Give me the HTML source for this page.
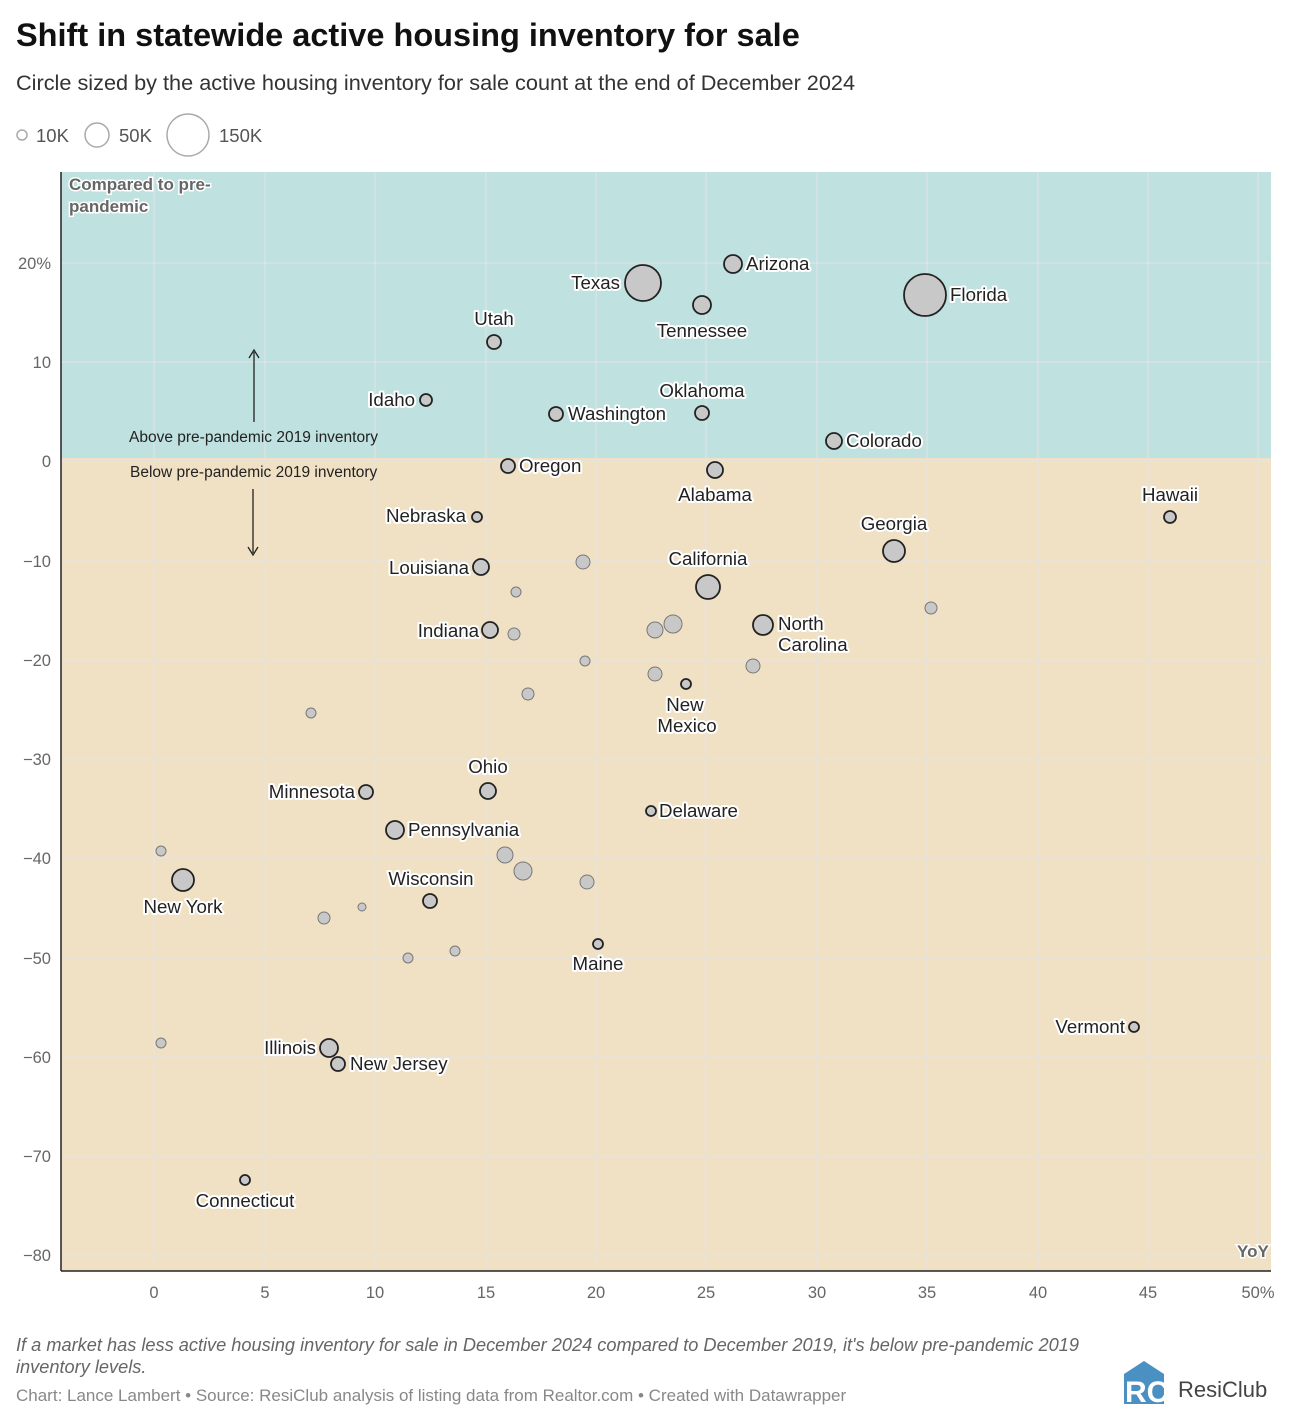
<!DOCTYPE html>
<html><head><meta charset="utf-8"><style>
body{margin:0;background:#fff;font-family:"Liberation Sans",sans-serif;}
svg text{font-family:"Liberation Sans",sans-serif;}
.l{font-size:18.7px;fill:#222;stroke:#fff;stroke-width:4px;paint-order:stroke;stroke-linejoin:round;}
.t{font-size:16.5px;fill:#666;}
.c{fill:#c8c8c8;stroke:#222;stroke-width:1.8;}
.u{fill:#c8c8c8;stroke:#777;stroke-width:1;}
.g{stroke:#e4e4e4;stroke-width:1;}
</style></head><body>
<svg width="1292" height="1422" xmlns="http://www.w3.org/2000/svg">
<text x="16" y="46" font-size="32.5" font-weight="bold" fill="#111">Shift in statewide active housing inventory for sale</text>
<text x="16" y="90" font-size="21.7" fill="#333">Circle sized by the active housing inventory for sale count at the end of December 2024</text>
<circle cx="22" cy="135" r="5" fill="none" stroke="#aaa" stroke-width="1.5"/>
<text x="36" y="142" font-size="18.5" fill="#555">10K</text>
<circle cx="97" cy="135" r="12" fill="none" stroke="#aaa" stroke-width="1.5"/>
<text x="119" y="142" font-size="18.5" fill="#555">50K</text>
<circle cx="188" cy="135" r="21" fill="none" stroke="#aaa" stroke-width="1.5"/>
<text x="219" y="142" font-size="18.5" fill="#555">150K</text>
<rect x="61" y="172" width="1210" height="286" fill="#bfe1df"/>
<rect x="61" y="458" width="1210" height="813" fill="#f0e1c4"/>
<g class="g">
<line x1="154" y1="172" x2="154" y2="1271"/><line x1="265" y1="172" x2="265" y2="1271"/>
<line x1="375" y1="172" x2="375" y2="1271"/><line x1="486" y1="172" x2="486" y2="1271"/>
<line x1="596" y1="172" x2="596" y2="1271"/><line x1="706" y1="172" x2="706" y2="1271"/>
<line x1="817" y1="172" x2="817" y2="1271"/><line x1="927" y1="172" x2="927" y2="1271"/>
<line x1="1038" y1="172" x2="1038" y2="1271"/><line x1="1148" y1="172" x2="1148" y2="1271"/>
<line x1="1258" y1="172" x2="1258" y2="1271"/>
<line x1="61" y1="263" x2="1271" y2="263"/><line x1="61" y1="362" x2="1271" y2="362"/>
<line x1="61" y1="461" x2="1271" y2="461"/><line x1="61" y1="561" x2="1271" y2="561"/>
<line x1="61" y1="660" x2="1271" y2="660"/><line x1="61" y1="759" x2="1271" y2="759"/>
<line x1="61" y1="858" x2="1271" y2="858"/><line x1="61" y1="958" x2="1271" y2="958"/>
<line x1="61" y1="1057" x2="1271" y2="1057"/><line x1="61" y1="1156" x2="1271" y2="1156"/>
<line x1="61" y1="1255" x2="1271" y2="1255"/>
</g>
<line x1="61" y1="172" x2="61" y2="1271" stroke="#222" stroke-width="1.5"/>
<line x1="61" y1="1271" x2="1271" y2="1271" stroke="#222" stroke-width="1.5"/>
<g class="t" text-anchor="end">
<text x="51" y="269">20%</text><text x="51" y="368">10</text><text x="51" y="467">0</text>
<text x="51" y="567">−10</text><text x="51" y="666">−20</text><text x="51" y="765">−30</text>
<text x="51" y="864">−40</text><text x="51" y="964">−50</text><text x="51" y="1063">−60</text>
<text x="51" y="1162">−70</text><text x="51" y="1261">−80</text>
</g>
<g class="t" text-anchor="middle">
<text x="154" y="1298">0</text><text x="265" y="1298">5</text><text x="375" y="1298">10</text>
<text x="486" y="1298">15</text><text x="596" y="1298">20</text><text x="706" y="1298">25</text>
<text x="817" y="1298">30</text><text x="927" y="1298">35</text><text x="1038" y="1298">40</text>
<text x="1148" y="1298">45</text><text x="1258" y="1298">50%</text>
</g>
<g font-size="17" font-weight="bold" fill="#666" stroke="#fff" stroke-width="3" paint-order="stroke">
<text x="69" y="190">Compared to pre-</text><text x="69" y="212">pandemic</text>
<text x="1237" y="1257">YoY</text>
</g>
<g font-size="15.5" fill="#222">
<text x="129" y="442">Above pre-pandemic 2019 inventory</text>
<text x="130" y="477">Below pre-pandemic 2019 inventory</text>
</g>
<line x1="254" y1="422" x2="254" y2="352" stroke="#222" stroke-width="1.3"/>
<path d="M249 358 L254 350 L259 358" fill="none" stroke="#222" stroke-width="1.3"/>
<line x1="253" y1="489" x2="253" y2="553" stroke="#222" stroke-width="1.3"/>
<path d="M248 547 L253 555 L258 547" fill="none" stroke="#222" stroke-width="1.3"/>
<g class="u">
<circle cx="583" cy="562" r="7"/><circle cx="516" cy="592" r="5"/><circle cx="931" cy="608" r="6"/>
<circle cx="514" cy="634" r="6"/><circle cx="655" cy="630" r="8"/><circle cx="673" cy="624" r="9"/>
<circle cx="585" cy="661" r="5"/><circle cx="753" cy="666" r="7"/><circle cx="655" cy="674" r="7"/>
<circle cx="528" cy="694" r="6"/><circle cx="311" cy="713" r="5"/>
<circle cx="505" cy="855" r="8"/><circle cx="523" cy="871" r="9"/><circle cx="161" cy="851" r="5"/>
<circle cx="587" cy="882" r="7"/><circle cx="362" cy="907" r="4"/><circle cx="324" cy="918" r="6"/>
<circle cx="455" cy="951" r="5"/><circle cx="408" cy="958" r="5"/><circle cx="161" cy="1043" r="5"/>
</g>
<g class="c">
<circle cx="643" cy="283" r="18"/><circle cx="733" cy="264" r="9"/><circle cx="702" cy="305" r="9"/>
<circle cx="925" cy="295" r="21"/><circle cx="494" cy="342" r="7"/><circle cx="426" cy="400" r="6"/>
<circle cx="556" cy="414" r="7"/><circle cx="702" cy="413" r="7"/><circle cx="834" cy="441" r="8"/>
<circle cx="508" cy="466" r="7"/><circle cx="715" cy="470" r="8"/><circle cx="1170" cy="517" r="6"/>
<circle cx="477" cy="517" r="5"/><circle cx="894" cy="551" r="11"/><circle cx="481" cy="567" r="8"/>
<circle cx="708" cy="587" r="12"/><circle cx="763" cy="625" r="10"/><circle cx="490" cy="630" r="8"/>
<circle cx="686" cy="684" r="5"/><circle cx="488" cy="791" r="8"/><circle cx="366" cy="792" r="7"/>
<circle cx="651" cy="811" r="5"/><circle cx="395" cy="830" r="9"/><circle cx="183" cy="880" r="11"/>
<circle cx="430" cy="901" r="7"/><circle cx="598" cy="944" r="5"/><circle cx="1134" cy="1027" r="5"/>
<circle cx="329" cy="1048" r="9"/><circle cx="338" cy="1064" r="7"/><circle cx="245" cy="1180" r="5"/>
</g>
<g class="l">
<text x="620" y="289" text-anchor="end">Texas</text><text x="746" y="270">Arizona</text>
<text x="702" y="337" text-anchor="middle">Tennessee</text><text x="950" y="301">Florida</text>
<text x="494" y="325" text-anchor="middle">Utah</text><text x="415" y="406" text-anchor="end">Idaho</text>
<text x="568" y="420">Washington</text><text x="702" y="397" text-anchor="middle">Oklahoma</text>
<text x="846" y="447">Colorado</text><text x="519" y="472">Oregon</text>
<text x="715" y="501" text-anchor="middle">Alabama</text><text x="1170" y="501" text-anchor="middle">Hawaii</text>
<text x="466" y="522" text-anchor="end">Nebraska</text><text x="894" y="530" text-anchor="middle">Georgia</text>
<text x="469" y="574" text-anchor="end">Louisiana</text><text x="708" y="565" text-anchor="middle">California</text>
<text x="778" y="630">North</text><text x="778" y="651">Carolina</text>
<text x="479" y="637" text-anchor="end">Indiana</text>
<text x="685" y="711" text-anchor="middle">New</text><text x="687" y="732" text-anchor="middle">Mexico</text>
<text x="488" y="773" text-anchor="middle">Ohio</text><text x="355" y="798" text-anchor="end">Minnesota</text>
<text x="659" y="817">Delaware</text><text x="408" y="836">Pennsylvania</text>
<text x="183" y="913" text-anchor="middle">New York</text><text x="431" y="885" text-anchor="middle">Wisconsin</text>
<text x="598" y="970" text-anchor="middle">Maine</text><text x="1125" y="1033" text-anchor="end">Vermont</text>
<text x="316" y="1054" text-anchor="end">Illinois</text><text x="350" y="1070">New Jersey</text>
<text x="245" y="1207" text-anchor="middle">Connecticut</text>
</g>
<g font-size="18.2" font-style="italic" fill="#666">
<text x="16" y="1351">If a market has less active housing inventory for sale in December 2024 compared to December 2019, it's below pre-pandemic 2019</text>
<text x="16" y="1373">inventory levels.</text>
</g>
<text x="16" y="1401" font-size="17" fill="#888">Chart: Lance Lambert • Source: ResiClub analysis of listing data from Realtor.com • Created with Datawrapper</text>
<path d="M1124 1374 L1144 1361 L1164 1374 L1164 1404 L1124 1404 Z" fill="#4a90c2"/>
<text x="1125" y="1402" font-size="30" font-weight="bold" fill="#fff">RC</text>
<text x="1178" y="1397" font-size="22" fill="#444">ResiClub</text>
</svg>
</body></html>
